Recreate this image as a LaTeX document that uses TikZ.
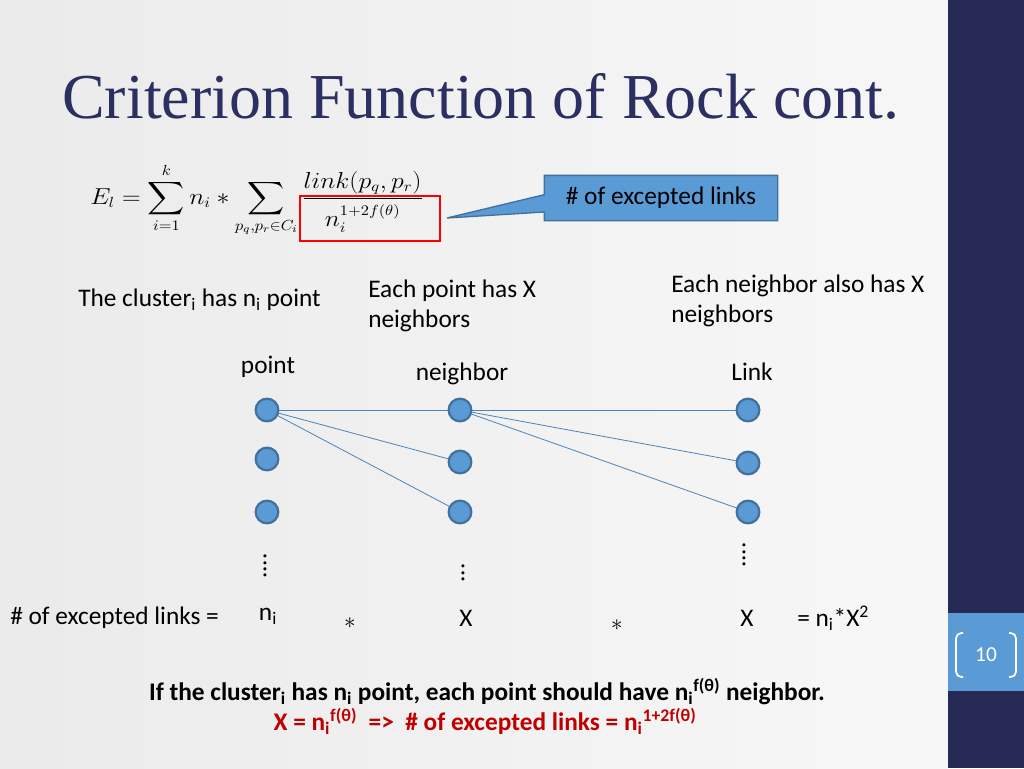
\documentclass[tikz,border=0pt]{standalone}
\usepackage{amsmath}
\usepackage{fontspec}
\setmainfont{Carlito}
\newfontfamily\titlefont{Liberation Serif}
\usetikzlibrary{shapes.callouts}

\definecolor{navy}{HTML}{262A55}
\definecolor{titleblue}{HTML}{2B2F62}
\definecolor{dotblue}{HTML}{5B9BD5}
\definecolor{dotedge}{HTML}{41719C}
\definecolor{linkred}{HTML}{C00000}

\begin{document}
\begin{tikzpicture}[x=0.75pt,y=-0.75pt,
    font=\fontsize{19}{22.5}\selectfont,
    vtx/.style={circle,fill=dotblue,draw=dotedge,line width=1.7pt,
                minimum size=17pt,inner sep=0pt},
    edge/.style={draw=dotblue!85!black,line width=0.6pt},
    lbl/.style={inner sep=0pt,anchor=base west,align=left},
    clbl/.style={inner sep=0pt,anchor=base},
    vd/.style={inner sep=0pt,rotate=90},
    callbox/.style={rectangle callout,fill=dotblue,draw=dotedge,line width=1pt,
                    minimum width=175pt,minimum height=34pt,inner sep=0pt,
                    callout pointer width=13pt}]
  % slide background
  \useasboundingbox (0,0) rectangle (1024,768);
  \shade[left color=gray!16,middle color=white,right color=gray!6]
    (0,0) rectangle (948,768);
  \fill[navy] (948,0) rectangle (1024,768);
  \fill[dotblue] (948,613) rectangle (1024,691);
  \draw[white,line width=1.3pt,rounded corners=4pt]
    (963,633) -- (956,633) -- (956,677) -- (963,677);
  \draw[white,line width=1.3pt,rounded corners=4pt]
    (1009,633) -- (1016,633) -- (1016,677) -- (1009,677);
  \node[text=white,font=\fontsize{16}{18}\selectfont] (pnum) at (986,655) {10};

  % title
  \node[lbl,text=titleblue,font=\titlefont\fontsize{48}{52}\selectfont]
    (title) at (62,118) {Criterion Function of Rock cont.};

  % formula with the boxed denominator
  \node[lbl,font=\fontsize{16}{19}\selectfont] (eq) at (90,204)
    {\scalebox{1.12}[1]{$\displaystyle E_l=\sum_{i=1}^{k}n_i*\sum_{p_q,p_r\in C_i}
      \frac{link(p_q,p_r)}{\;\rule{0pt}{19pt}n_i^{1+2f(\theta)}\;}$}};
  \node[draw=red,line width=1.2pt,minimum width=105pt,minimum height=34pt,
        inner sep=0pt] (den) at (370,218.5) {};
  \node[callbox,callout absolute pointer={(447,218)}] (note) at (661,198)
    {\# of excepted links};

  % captions
  \node[lbl] (c1) at (78,306)
    {The cluster\textsubscript{i} has n\textsubscript{i} point};
  \node[lbl] (c2) at (368,327) {Each point has X\\neighbors};
  \node[lbl] (c3) at (671,322) {Each neighbor also has X\\neighbors};
  \node[clbl] (hp) at (268,373) {point};
  \node[clbl] (hn) at (462,380) {neighbor};
  \node[clbl] (hl) at (752,380) {Link};

  % points, neighbors, links
  \node[vtx] (p1) at (267,410) {};
  \node[vtx] (p2) at (267,459) {};
  \node[vtx] (p3) at (267,512) {};
  \node[vtx] (n1) at (460,410) {};
  \node[vtx] (n2) at (460,462) {};
  \node[vtx] (n3) at (460,512) {};
  \node[vtx] (l1) at (748,410) {};
  \node[vtx] (l2) at (748,463) {};
  \node[vtx] (l3) at (748,512) {};
  \node[vd] (pd) at (265,566) {....};
  \node[vd] (nd) at (463,573) {...};
  \node[vd] (ld) at (744,555) {....};
  \foreach \t in {n1,n2,n3} \draw[edge] (p1) -- (\t);
  \foreach \t in {l1,l2,l3} \draw[edge] (n1) -- (\t);

  % product row
  \node[lbl] (cnt) at (10,624) {\# of excepted links =};
  \node[clbl] (fn) at (268,620) {n\textsubscript{i}};
  \node[clbl] (m1) at (350,628) {$*$};
  \node[clbl] (fx1) at (466,626) {X};
  \node[clbl] (m2) at (617,630) {$*$};
  \node[clbl] (fx2) at (747,626) {X};
  \node[lbl] (res) at (797,626) {= n\textsubscript{i}*X\textsuperscript{2}};

  % conclusion
  \node[clbl,font=\bfseries\fontsize{19}{21}\selectfont] (con1) at (487,700)
    {If the cluster\textsubscript{i} has n\textsubscript{i} point, each point
     should have n\textsubscript{i}\textsuperscript{f(θ)} neighbor.};
  \node[clbl,text=linkred,font=\bfseries\fontsize{19}{21}\selectfont] (con2) at (485,730)
    {X = n\textsubscript{i}\textsuperscript{f(θ)}\ \ =>\ \ \# of excepted links =
     n\textsubscript{i}\textsuperscript{1+2f(θ)}};
\end{tikzpicture}
\end{document}
